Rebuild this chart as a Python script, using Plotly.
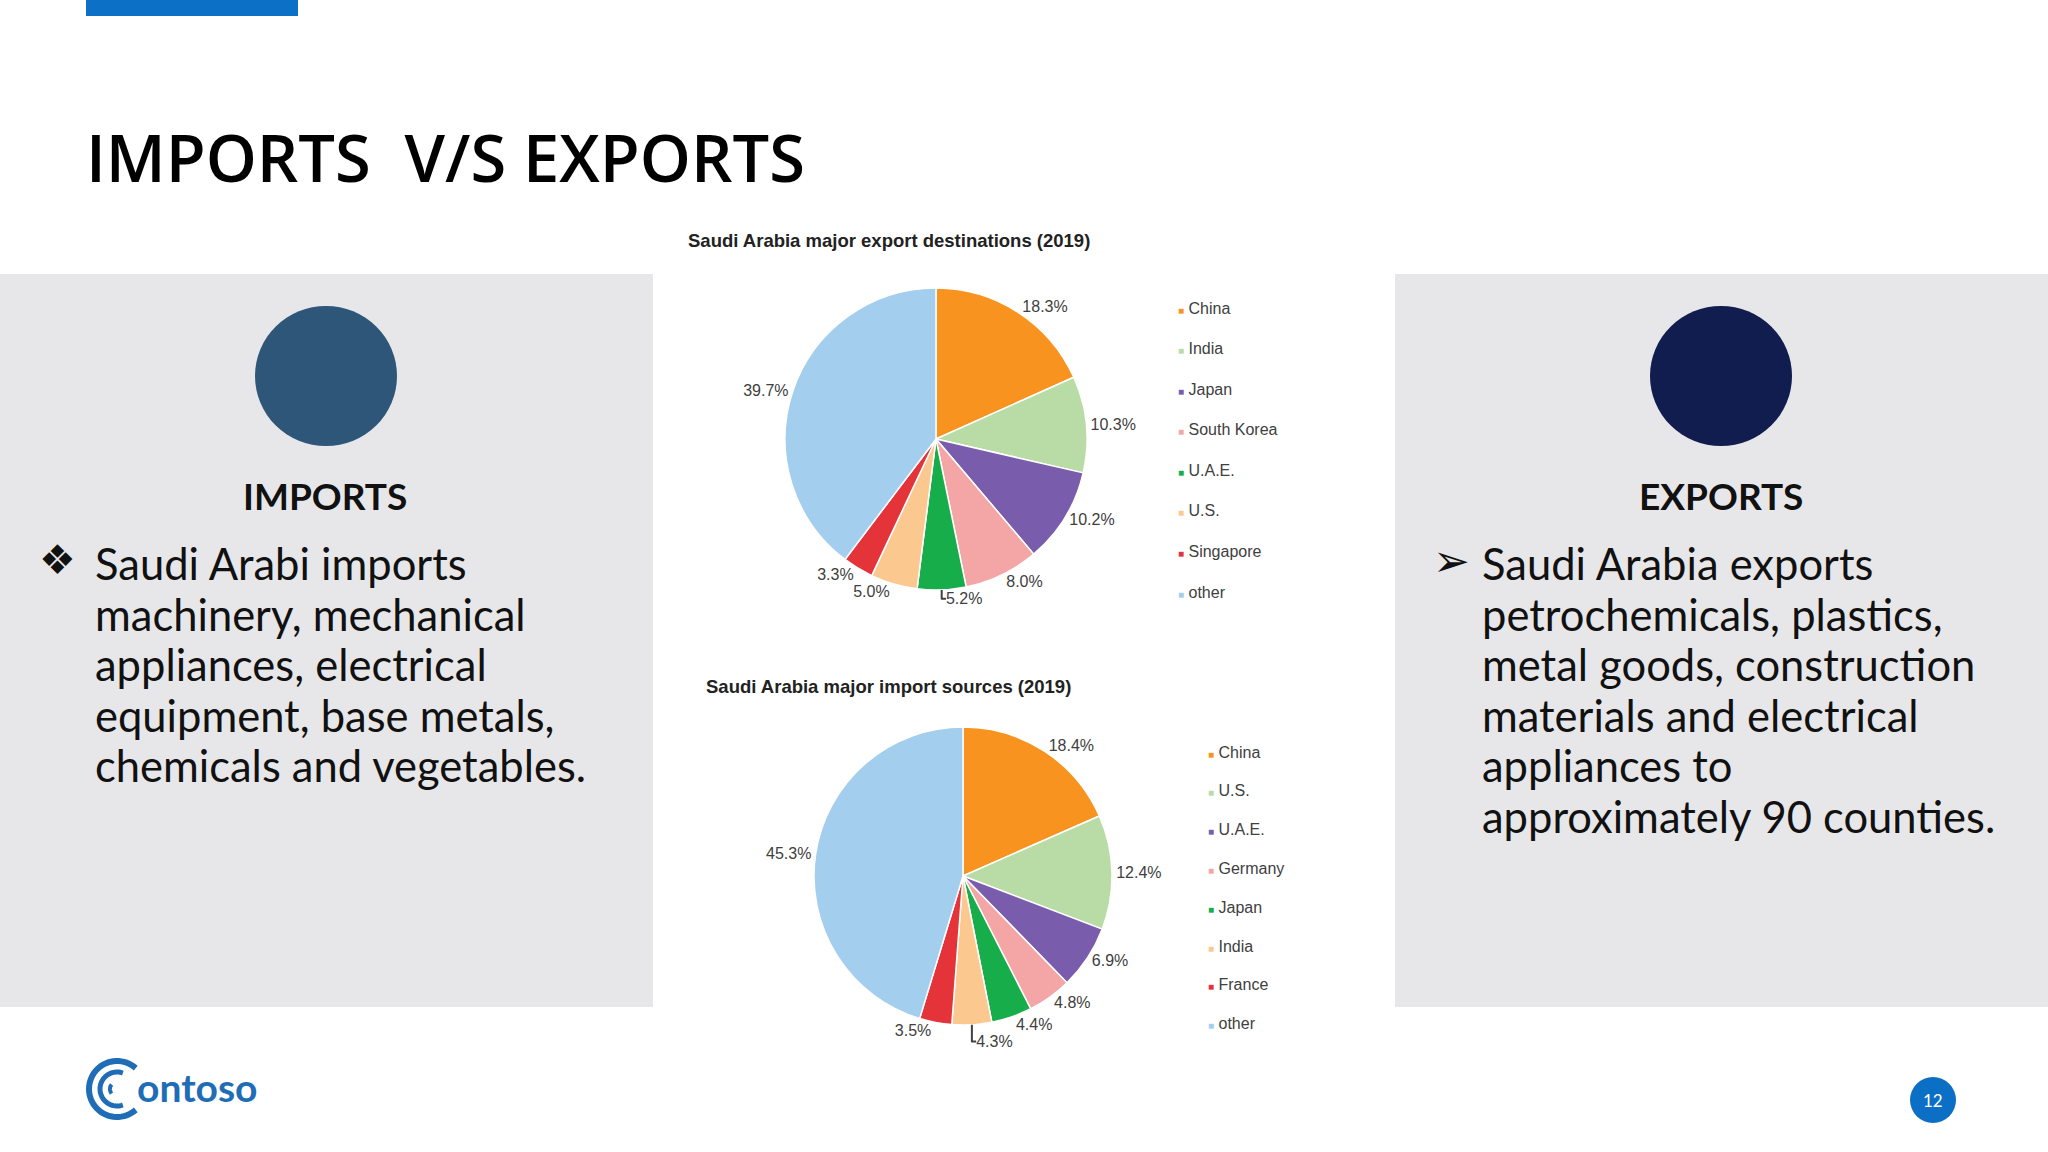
import math
import plotly.graph_objects as go

W, H = 2048, 1152

# ---------------- data ----------------
export_title = "Saudi Arabia major export destinations (2019)"
export_countries = ["China", "India", "Japan", "South Korea", "U.A.E.", "U.S.", "Singapore", "other"]
export_shares = [18.3, 10.3, 10.2, 8.0, 5.2, 5.0, 3.3, 39.7]

import_title = "Saudi Arabia major import sources (2019)"
import_countries = ["China", "U.S.", "U.A.E.", "Germany", "Japan", "India", "France", "other"]
import_shares = [18.4, 12.4, 6.9, 4.8, 4.4, 4.3, 3.5, 45.3]

slice_colors = ["#F7931E", "#B9DCA6", "#7A5CAC", "#F4A6A6", "#17AD4B", "#FBC88F", "#E5333A", "#A3CEEE"]

imports_lines = ["Saudi Arabi imports", "machinery, mechanical", "appliances, electrical",
                 "equipment, base metals,", "chemicals and vegetables."]
exports_lines = ["Saudi Arabia exports", "petrochemicals, plastics,", "metal goods, construction",
                 "materials and electrical", "appliances to", "approximately 90 counties."]


def px(x):
    return x / W


def py(y):
    return 1 - y / H


fig = go.Figure()

label_font = dict(family="Liberation Sans, Arial, sans-serif", size=16, color="#404040")

fig.add_trace(go.Pie(
    labels=export_countries, values=export_shares, sort=False, direction="clockwise", rotation=0,
    marker=dict(colors=slice_colors, line=dict(color="white", width=1.5)),
    texttemplate="%{value:.1f}%", textposition="outside", textfont=label_font,
    domain=dict(x=[px(785), px(1087)], y=[py(590), py(288)]),
    showlegend=False, hoverinfo="label+value",
))
fig.add_trace(go.Pie(
    labels=import_countries, values=import_shares, sort=False, direction="clockwise", rotation=0,
    marker=dict(colors=slice_colors, line=dict(color="white", width=1.5)),
    texttemplate="%{value:.1f}%", textposition="outside", textfont=label_font,
    domain=dict(x=[px(814), px(1112)], y=[py(1025), py(727)]),
    showlegend=False, hoverinfo="label+value",
))

shapes = []
annotations = []

# background panels
shapes.append(dict(type="rect", xref="paper", yref="paper", x0=0, x1=px(653), y0=py(1007), y1=py(274),
                   fillcolor="#E7E7E9", line=dict(width=0), layer="below"))
shapes.append(dict(type="rect", xref="paper", yref="paper", x0=px(1395), x1=1, y0=py(1007), y1=py(274),
                   fillcolor="#E7E7E9", line=dict(width=0), layer="below"))
# top accent bar
shapes.append(dict(type="rect", xref="paper", yref="paper", x0=px(86), x1=px(298), y0=py(16), y1=1,
                   fillcolor="#0B70C6", line=dict(width=0), layer="below"))
# circles
shapes.append(dict(type="circle", xref="paper", yref="paper", x0=px(255), x1=px(397), y0=py(446), y1=py(306),
                   fillcolor="#2D5679", line=dict(width=0)))
shapes.append(dict(type="circle", xref="paper", yref="paper", x0=px(1650), x1=px(1792), y0=py(446), y1=py(306),
                   fillcolor="#111D4E", line=dict(width=0)))
# page number circle
shapes.append(dict(type="circle", xref="paper", yref="paper", x0=px(1910), x1=px(1956), y0=py(1123), y1=py(1077),
                   fillcolor="#0B6FC6", line=dict(width=0)))


def arc_path(cx, cy, r, a0, a1, n=48):
    pts = []
    for i in range(n + 1):
        a = math.radians(a0 + (a1 - a0) * i / n)
        x = cx + r * math.cos(a)
        y = cy - r * math.sin(a)
        pts.append(f"{px(x):.5f},{py(y):.5f}")
    return "M " + " L ".join(pts)


logo_blue = "#1F6DB6"
shapes.append(dict(type="path", xref="paper", yref="paper", path=arc_path(117, 1089, 28, 48, 312),
                   line=dict(color=logo_blue, width=6)))
shapes.append(dict(type="path", xref="paper", yref="paper", path=arc_path(117, 1089, 17, 70, 290),
                   line=dict(color=logo_blue, width=5)))
shapes.append(dict(type="path", xref="paper", yref="paper", path=arc_path(117, 1089, 7, 140, 220),
                   line=dict(color=logo_blue, width=4)))

# title
annotations.append(dict(text="IMPORTS\u00a0 V/S EXPORTS", x=px(84), y=py(157), xref="paper", yref="paper",
                        xanchor="left", yanchor="middle", showarrow=False,
                        font=dict(family="Open Sans, sans-serif", size=65, color="#000000", weight=600)))

# section headings
annotations.append(dict(text="IMPORTS", x=px(325), y=py(495), xref="paper", yref="paper",
                        xanchor="center", yanchor="middle", showarrow=False,
                        font=dict(family="Lato, sans-serif", size=37, color="#111111", weight="bold")))
annotations.append(dict(text="EXPORTS", x=px(1721), y=py(495), xref="paper", yref="paper",
                        xanchor="center", yanchor="middle", showarrow=False,
                        font=dict(family="Lato, sans-serif", size=37, color="#111111", weight="bold")))

body_font = dict(family="Lato, sans-serif", size=43.5, color="#111111")
line_gap = 50.6
for i, t in enumerate(imports_lines):
    annotations.append(dict(text=t, x=px(93), y=py(563 + i * line_gap), xref="paper", yref="paper",
                            xanchor="left", yanchor="middle", showarrow=False, font=body_font))
for i, t in enumerate(exports_lines):
    annotations.append(dict(text=t, x=px(1480), y=py(563 + i * line_gap), xref="paper", yref="paper",
                            xanchor="left", yanchor="middle", showarrow=False, font=body_font))

# bullets
annotations.append(dict(text="\u2756", x=px(57), y=py(560), xref="paper", yref="paper",
                        xanchor="center", yanchor="middle", showarrow=False,
                        font=dict(family="DejaVu Sans", size=41, color="#111111")))
annotations.append(dict(text="\u27A2", x=px(1451), y=py(560), xref="paper", yref="paper",
                        xanchor="center", yanchor="middle", showarrow=False,
                        font=dict(family="DejaVu Sans", size=44, color="#111111")))

# chart titles
title_font = dict(family="Liberation Sans, Arial, sans-serif", size=18.5, color="#222222", weight="bold")
annotations.append(dict(text=export_title, x=px(686), y=py(240), xref="paper", yref="paper",
                        xanchor="left", yanchor="middle", showarrow=False, font=title_font))
annotations.append(dict(text=import_title, x=px(704), y=py(686), xref="paper", yref="paper",
                        xanchor="left", yanchor="middle", showarrow=False, font=title_font))

# manual legends
leg_font = dict(family="Liberation Sans, Arial, sans-serif", size=16, color="#404040")


def add_legend(names, x0, y0, dy):
    for i, (n, c) in enumerate(zip(names, slice_colors)):
        annotations.append(dict(
            text=f"<span style='font-size:10px;color:{c}'>\u25A0</span> {n}",
            x=px(x0), y=py(y0 + i * dy), xref="paper", yref="paper",
            xanchor="left", yanchor="middle", showarrow=False, font=leg_font))


add_legend(export_countries, 1176, 308, 40.6)
add_legend(import_countries, 1206, 752, 38.8)

# logo text
annotations.append(dict(text="ontoso", x=px(135), y=py(1087), xref="paper", yref="paper",
                        xanchor="left", yanchor="middle", showarrow=False,
                        font=dict(family="Lato, sans-serif", size=39, color=logo_blue, weight="bold")))
# page number
annotations.append(dict(text="12", x=px(1933), y=py(1100), xref="paper", yref="paper",
                        xanchor="center", yanchor="middle", showarrow=False,
                        font=dict(family="Lato, sans-serif", size=17, color="#FFFFFF")))

fig.update_layout(
    width=W, height=H, margin=dict(l=0, r=0, t=0, b=0),
    paper_bgcolor="#FFFFFF", plot_bgcolor="#FFFFFF",
    shapes=shapes, annotations=annotations, showlegend=False,
)

fig.write_html("out.html", config={"displayModeBar": False},
               post_script="document.body.style.margin='0px';")
